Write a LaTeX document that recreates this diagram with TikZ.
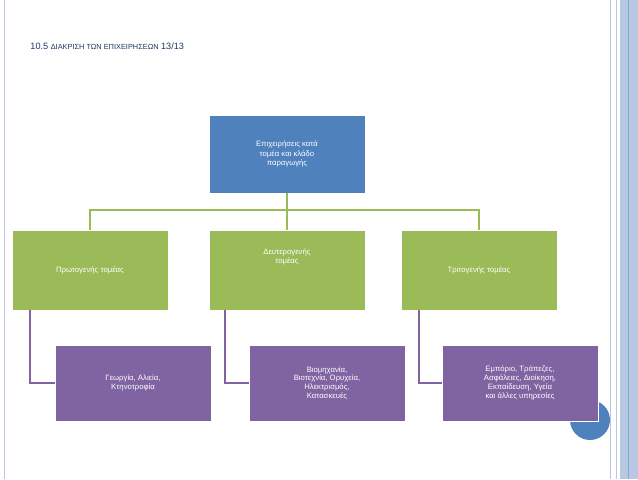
\documentclass[tikz,border=0pt]{standalone}
\usepackage{fontspec}
\setmainfont{Liberation Sans}
\usetikzlibrary{positioning}
\definecolor{titleblue}{HTML}{1F3864}
\definecolor{topblue}{HTML}{4F81BD}
\definecolor{leafgreen}{HTML}{9BBB59}
\definecolor{lowpurple}{HTML}{8064A2}
\definecolor{edgeblue}{HTML}{B9C8E2}
\begin{document}
\begin{tikzpicture}[x=0.5mm,y=-0.5mm,
        top/.style={rectangle, fill=topblue, draw=white, text=white, minimum width=78mm, minimum height=39mm, align=center, font=\fontsize{11}{13}\selectfont},
        sector/.style={rectangle, fill=leafgreen, draw=white, text=white, minimum width=78mm, minimum height=40mm, align=center, font=\fontsize{11}{13}\selectfont},
        branch/.style={rectangle, fill=lowpurple, draw=white, thick, text=white, minimum width=78mm, minimum height=38mm, align=center, inner sep=1pt, font=\fontsize{11}{12.5}\selectfont},
        green link/.style={draw=leafgreen, line width=1.5pt},
        purple link/.style={draw=lowpurple, line width=1.5pt}
    ]
        \useasboundingbox (0,0) rectangle (638,479);
        \fill[white] (0,0) rectangle (638,479);
        % frame
        \draw[edgeblue, line width=1pt] (4,0) -- (4,479);
        \draw[edgeblue, line width=1pt] (610,0) -- (610,479);
        \draw[edgeblue, line width=1pt] (616,0) -- (616,479);
        \fill[edgeblue] (620,0) rectangle (638,479);
        \draw[topblue!70, line width=0.6pt] (628,0) -- (628,479);
        \fill[topblue] (590,420) circle (20);
        \node[anchor=west, text=titleblue, font=\fontsize{13}{15}\selectfont] (title) at (28,46) {10.5 {\fontsize{10.5}{15}\selectfont ΔΙΑΚΡΙΣΗ ΤΩΝ ΕΠΙΧΕΙΡΗΣΕΩΝ} 13/13};

        \node[top](root) at (287,154) {Επιχειρήσεις κατά\\τομέα και κλάδο\\παραγωγής};
        \node[sector](s1) at (90,270) {Πρωτογενής τομέας};
        \node[sector, text depth=14mm](s2) at (287,270) {Δευτερογενής\\τομέας};
        \node[sector](s3) at (479,270) {Τριτογενής τομέας};
        \node[branch](b1) at (133,383) {Γεωργία, Αλιεία,\\Κτηνοτροφία};
        \node[branch](b2) at (327,383) {Βιομηχανία,\\Βιοτεχνία, Ορυχεία,\\Ηλεκτρισμός,\\Κατασκευές};
        \node[branch](b3) at (520,383) {Εμπόριο, Τράπεζες,\\Ασφάλειες, Διοίκηση,\\Εκπαίδευση, Υγεία\\και άλλες υπηρεσίες};

        \coordinate (bar) at (287,210);
        \draw[green link] (root.south) -- (bar);
        \draw[green link] (s1.north) |- (bar) -| (s3.north);
        \draw[green link] (bar) -- (s2.north);
        \draw[purple link] ([xshift=-30mm]s1.south) |- (b1.west);
        \draw[purple link] ([xshift=-31mm]s2.south) |- (b2.west);
        \draw[purple link] ([xshift=-30mm]s3.south) |- (b3.west);
    \end{tikzpicture}
\end{document}
